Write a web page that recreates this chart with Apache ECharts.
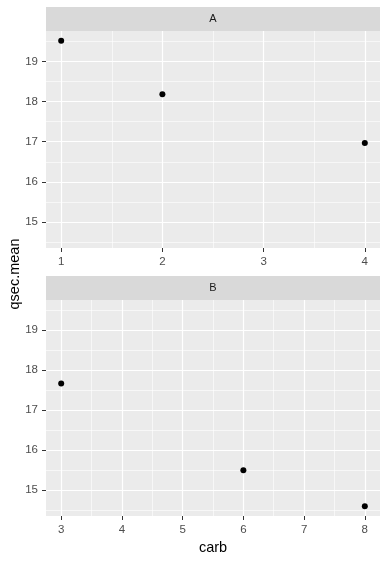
<!DOCTYPE html>
<html>
<head>
<meta charset="utf-8">
<script src="https://cdn.jsdelivr.net/npm/echarts@6/dist/echarts.min.js"></script>
<style>
  html, body { margin: 0; padding: 0; background: #fff; }
  #chart { width: 388px; height: 562px; }
</style>
</head>
<body>
<div id="chart"></div>
<script>
// ---- data ----
const panelNames = ['A', 'B'];
const carbA = [1, 2, 4];
const qsecA = [19.51, 18.18, 16.97];
const carbB = [3, 6, 8];
const qsecB = [17.67, 15.5, 14.6];
const xTicksA = [1, 2, 3, 4];
const xTicksB = [3, 4, 5, 6, 7, 8];
const yTicks = [15, 16, 17, 18, 19];

// ---- helpers ----
function expandRange(vals, mult) {
  const lo = Math.min(...vals), hi = Math.max(...vals);
  const d = (hi - lo) * mult;
  return [lo - d, hi + d];
}
function minorBreaks(ticks, range) {
  const step = ticks[1] - ticks[0];
  const out = [];
  for (let i = -1; i < ticks.length; i++) {
    const v = (i < 0 ? ticks[0] - step : ticks[i]) + step / 2;
    if (v > range[0] && v < range[1]) out.push(v);
  }
  return out;
}

const yRange = expandRange(qsecA.concat(qsecB), 0.05);
const xRangeA = expandRange(carbA, 0.05);
const xRangeB = expandRange(carbB, 0.05);

const FONT = 'Liberation Sans, Arial, sans-serif';
const panelBg = '#EBEBEB';
const stripBg = '#D9D9D9';

const grids = [
  { left: 46, top: 31, width: 334, height: 217 },
  { left: 46, top: 300, width: 334, height: 216 }
];
const strips = [
  { x: 46, y: 7, w: 334, h: 24 },
  { x: 46, y: 276, w: 334, h: 24 }
];

function xAxisDef(gi, range, ticks, name) {
  return {
    type: 'value', gridIndex: gi, min: range[0], max: range[1],
    axisLine: { show: false },
    axisTick: { show: true, length: 4, lineStyle: { color: '#333333', width: 1 }, customValues: ticks },
    axisLabel: { color: '#4D4D4D', fontSize: 11.5, fontFamily: FONT, margin: 8, customValues: ticks },
    splitLine: { show: false },
    name: name || '', nameLocation: 'middle', nameGap: 24,
    nameTextStyle: { color: '#000000', fontSize: 14.5, fontFamily: FONT }
  };
}
function yAxisDef(gi) {
  return {
    type: 'value', gridIndex: gi, min: yRange[0], max: yRange[1],
    axisLine: { show: false },
    axisTick: { show: true, length: 4, lineStyle: { color: '#333333', width: 1 }, customValues: yTicks },
    axisLabel: { color: '#4D4D4D', fontSize: 11.5, fontFamily: FONT, margin: 8, customValues: yTicks },
    splitLine: { show: false }
  };
}

function gridSeries(gi, xTicks, xRange) {
  const majorX = xTicks.map(v => ({ xAxis: v }));
  const majorY = yTicks.map(v => ({ yAxis: v }));
  const minorX = minorBreaks(xTicks, xRange).map(v => ({ xAxis: v, lineStyle: { width: 0.6 } }));
  const minorY = minorBreaks(yTicks, yRange).map(v => ({ yAxis: v, lineStyle: { width: 0.6 } }));
  return {
    type: 'line', xAxisIndex: gi, yAxisIndex: gi, data: [], silent: true, z: 1,
    markLine: {
      silent: true, symbol: ['none', 'none'], animation: false,
      label: { show: false },
      lineStyle: { color: '#FFFFFF', width: 1.2, type: 'solid' },
      emphasis: { disabled: true },
      data: minorX.concat(minorY, majorX, majorY)
    }
  };
}

const graphics = [];
strips.forEach((s, i) => {
  graphics.push({ type: 'rect', shape: { x: s.x, y: s.y, width: s.w, height: s.h }, style: { fill: stripBg }, silent: true });
  graphics.push({ type: 'text', x: s.x + s.w / 2, y: s.y + s.h / 2, style: { text: panelNames[i], fill: '#1A1A1A', font: '11px ' + FONT, align: 'center', verticalAlign: 'middle' }, silent: true });
});
graphics.push({ type: 'text', x: 15, y: 274, rotation: Math.PI / 2, style: { text: 'qsec.mean', fill: '#000000', font: '14.5px ' + FONT, align: 'center', verticalAlign: 'middle' }, silent: true });

const chart = echarts.init(document.getElementById('chart'), null, { renderer: 'canvas' });
chart.setOption({
  animation: false,
  backgroundColor: '#FFFFFF',
  grid: grids.map(g => Object.assign({ show: true, backgroundColor: panelBg, borderWidth: 0 }, g)),
  xAxis: [xAxisDef(0, xRangeA, xTicksA), xAxisDef(1, xRangeB, xTicksB, 'carb')],
  yAxis: [yAxisDef(0), yAxisDef(1)],
  graphic: graphics,
  series: [
    gridSeries(0, xTicksA, xRangeA),
    gridSeries(1, xTicksB, xRangeB),
    { type: 'scatter', xAxisIndex: 0, yAxisIndex: 0, z: 10, symbolSize: 6, itemStyle: { color: '#000000', opacity: 1 },
      data: carbA.map((c, i) => [c, qsecA[i]]) },
    { type: 'scatter', xAxisIndex: 1, yAxisIndex: 1, z: 10, symbolSize: 6, itemStyle: { color: '#000000', opacity: 1 },
      data: carbB.map((c, i) => [c, qsecB[i]]) }
  ]
});
</script>
</body>
</html>
